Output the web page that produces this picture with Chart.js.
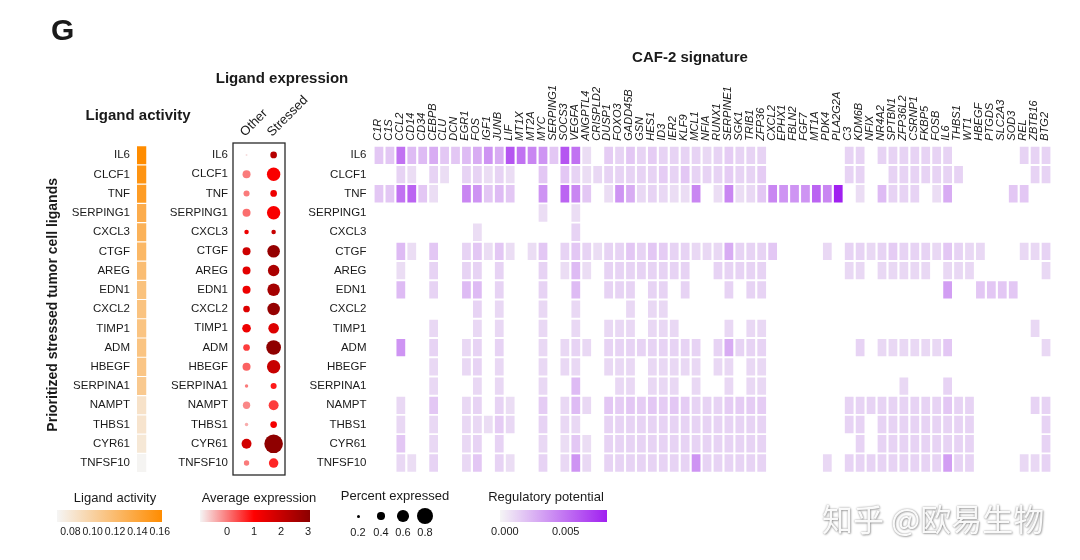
<!DOCTYPE html>
<html><head><meta charset="utf-8">
<script src="https://cdn.jsdelivr.net/npm/chart.js@4.4.1/dist/chart.umd.min.js"></script>
<style>
html,body{margin:0;padding:0;background:#fff;}
#wrap{position:relative;width:1080px;height:560px;overflow:hidden;font-family:"Liberation Sans",Arial,Helvetica,sans-serif;color:#1a1a1a;background:#fff;}
canvas{position:absolute;left:0;top:0;}
.t{position:absolute;white-space:nowrap;line-height:1;}
.b{font-weight:bold;}
.bar{position:absolute;}
.dotl{position:absolute;border-radius:50%;background:#000;}
</style></head><body>
<div id="wrap">
<canvas id="act" width="1080" height="560"></canvas>
<canvas id="dot" width="1080" height="560"></canvas>
<canvas id="heat" width="1080" height="560"></canvas>
</div>
<script>
const _ = null;
// ---------------- DATA ----------------
const ligands = ['IL6','CLCF1','TNF','SERPING1','CXCL3','CTGF','AREG','EDN1','CXCL2','TIMP1','ADM','HBEGF','SERPINA1','NAMPT','THBS1','CYR61','TNFSF10'];
const cafTargets = ['C1R','C1S','CCL2','CD14','CD34','CEBPB','CLU','DCN','EGR1','FOS','IGF1','JUNB','LIF','MT1X','MT2A','MYC','SERPING1','SOCS3','VEGFA','ANGPTL4','CRISPLD2','DUSP1','FOXO3','GADD45B','GSN','HES1','ID3','IER2','KLF9','MCL1','NFIA','RUNX1','SERPINE1','SGK1','TRIB1','ZFP36','CXCL2','EPHX1','FBLN2','FGF7','MT1A','PDK4','PLA2G2A','C3','KDM6B','NFIX','NR4A2','SPTBN1','ZFP36L2','CSRNP1','FKBP5','FOSB','IL6','THBS1','WT1','HBEGF','PTGDS','SLC2A3','SOD3','REL','ZBTB16','BTG2'];
const exprGroups = ['Other','Stressed'];

const ligandActivity = [0.162,0.155,0.148,0.133,0.128,0.123,0.118,0.114,0.113,0.112,0.112,0.111,0.107,0.085,0.083,0.080,0.069];

// average expression (scaled) and fraction expressing, per ligand
const exprOther    = [-0.8,0.0,0.0,0.1,1.3,1.9,1.5,1.3,1.6,1.3,0.5,0.2,0.0,-0.1,-0.4,1.8,0.0];
const exprStressed = [2.3,1.1,1.3,1.1,2.0,2.9,2.5,2.6,2.9,1.6,3.0,2.0,0.8,0.5,1.2,3.0,0.7];
const pctOther     = [0.15,0.43,0.34,0.43,0.27,0.43,0.43,0.43,0.37,0.46,0.37,0.43,0.22,0.40,0.22,0.52,0.31];
const pctStressed  = [0.37,0.68,0.37,0.68,0.27,0.64,0.59,0.64,0.64,0.55,0.74,0.68,0.34,0.52,0.37,0.92,0.50];

// regulatory potential (x 1e-3), one array per ligand, 62 CAF-2 targets each
const regIL6 = [1.5,1.5,5,2,2,2.6,1.5,1.5,2,2.6, 3.6,2.6,6.2,5,4.2,3.6,1.5,6.2,5,.6, _,1.3,1,1.5,1,1.3,1,1,1,1, .8,1,1.3,1,1,1,_,_,_,_, _,_,_,1,1,_,1,1,1,1, 1,1,1,_,_,_,_,_,_,1, 1,1];
const regCLCF1 = [_,_,1,.6,_,1,.6,_,1,1, .6,1,.6,_,_,1.5,_,1.5,1,.6, .8,1,1,1,1,1,1.3,1,1.5,1, 1,1,1.3,1,1,1.3,_,_,_,_, _,_,_,1,1,_,_,1,1,1, 1,1,1,1,_,_,_,_,_,_, 1,1];
const regTNF = [1.5,1.5,5,5.6,1.5,.6,_,_,4.2,3.6, 1.5,2,1.5,_,_,3.6,_,5.6,4.2,1.5, _,.6,3.6,2.6,.8,1,.8,.6,.6,4.2, _,.6,4.2,.6,.8,1.5,4.2,3.6,3.6,3.6, 5.6,4.2,8.4,_,.6,_,2,1,1,1, _,.6,2.6,_,_,_,_,_,1.5,1.5, _,_];
const regSERPING1 = [_,_,_,_,_,_,_,_,_,_, _,_,_,_,_,.6,_,_,.6,_, _,_,_,_,_,_,_,_,_,_, _,_,_,_,_,_,_,_,_,_, _,_,_,_,_,_,_,_,_,_, _,_,_,_,_,_,_,_,_,_, _,_];
const regCXCL3 = [_,_,_,_,_,_,_,_,_,.6, _,_,_,_,_,_,_,_,1,_, _,_,_,_,_,_,_,_,_,_, _,_,_,_,_,_,_,_,_,_, _,_,_,_,_,_,_,_,_,_, _,_,_,_,_,_,_,_,_,_, _,_];
const regCTGF = [_,_,2,.6,_,1.5,_,_,1,1.5, .6,1.5,.6,_,.6,1.5,_,1,1.5,1, .6,1,1,1.5,1,1.5,1.3,1,1,.8, .8,.8,2.6,1,1,1,1.5,_,_,_, _,.8,_,1,1,.8,1,1.3,1,1, 1,.8,1.5,1,.8,.8,_,_,_,.8, .8,1];
const regAREG = [_,_,.6,_,_,1,_,_,1,1, _,1,_,_,_,1,_,.6,2,.6, _,1,1,1,1,1,1,1,1,_, _,1,1,1,1,1,_,_,_,_, _,_,_,.8,.8,_,.8,.8,.8,.8, .8,_,.8,.8,.8,_,_,_,_,_, _,.8];
const regEDN1 = [_,_,2,_,_,1,_,_,2,2, _,1,_,_,_,1,_,_,2,_, _,1,1,1,_,1,1,_,1,_, _,_,1,_,1,1,_,_,_,_, _,_,_,_,_,_,_,_,_,_, _,_,3.2,_,_,1.5,1.5,1.5,1.5,_, _,_];
const regCXCL2 = [_,_,_,_,_,_,_,_,_,1, _,.8,_,_,_,.8,_,_,.8,_, _,_,_,.8,_,.8,.8,_,_,_, _,_,_,_,_,_,_,_,_,_, _,_,_,_,_,_,_,_,_,_, _,_,_,_,_,_,_,_,_,_, _,_];
const regTIMP1 = [_,_,_,_,_,.8,_,_,_,.8, _,.8,_,_,_,.8,_,_,.8,_, _,.8,.8,.8,_,.8,.8,.8,_,_, _,_,.8,_,.8,.8,_,_,_,_, _,_,_,_,_,_,_,_,_,_, _,_,_,_,_,_,_,_,_,_, .8,_];
const regADM = [_,_,3.6,_,_,1,_,_,.8,1, _,1,_,_,_,.8,_,.8,1,.8, _,1,1,1,1,1,1,1,1,1, _,1,2.6,1,1,1,_,_,_,_, _,_,_,_,1,_,.8,.8,.8,.8, .8,.8,1.5,_,_,_,_,_,_,_, _,.8];
const regHBEGF = [_,_,_,_,_,.8,_,_,.8,1, _,.8,_,_,_,.8,_,.8,.8,_, _,.8,.8,.8,_,.8,.8,.8,.8,.8, _,.8,.8,_,.8,.8,_,_,_,_, _,_,_,_,_,_,_,_,_,_, _,_,_,_,_,_,_,_,_,_, _,_];
const regSERPINA1 = [_,_,_,_,_,.8,_,_,_,.8, _,.8,_,_,_,.8,_,_,2,_, _,_,.8,.8,_,.8,.8,.8,_,.8, _,_,.8,_,.8,.8,_,_,_,_, _,_,_,_,_,_,_,_,.8,_, _,_,1,_,_,_,_,_,_,_, _,_];
const regNAMPT = [_,_,.8,_,_,1.5,_,_,.8,1, _,1,.6,_,_,1.3,_,.8,2,.8, _,1.5,1.3,1.5,1.3,1.5,1.3,1.5,1.3,1, 1,1,1.3,1.3,1.3,1.3,_,_,_,_, _,_,_,1,1,1,1,1,1,1, 1,1,1.5,1,1,_,_,_,_,_, 1,1];
const regTHBS1 = [_,_,.8,_,_,.8,_,_,.8,.8, .6,1.3,.8,_,_,1,_,.8,.8,_, _,1,1,1,1,1,1,1,1,1, 1,1,1,1,1,1,_,_,_,_, _,_,_,1,1,_,1,1,1,1, 1,1,1,1,1,_,_,_,_,_, _,1];
const regCYR61 = [_,_,1.5,_,_,.8,_,_,.8,1, _,1,_,_,_,.8,_,.6,1.5,.6, _,1,1,1,1,1,1,1,1,1, 1,1,1,1,1,1,_,_,_,_, _,_,_,_,1,_,1,1,1,1, 1,1,1,1,1,_,_,_,_,_, _,1];
const regTNFSF10 = [_,_,.8,.6,_,1,_,_,.8,1.5, _,1,.6,_,_,1,_,.8,3.6,.8, _,1,1,1,1,1,1,1,1,3.6, 1,1,1,1,1,1,_,_,_,_, _,.8,_,1,1,1,1,1,1,1, 1,1,3.2,1,1,_,_,_,_,.8, .8,1];
const regPotential = [regIL6,regCLCF1,regTNF,regSERPING1,regCXCL3,regCTGF,regAREG,regEDN1,regCXCL2,regTIMP1,regADM,regHBEGF,regSERPINA1,regNAMPT,regTHBS1,regCYR61,regTNFSF10];

// legend breaks
const actBreaks = [0.08,0.10,0.12,0.14,0.16];
const exprBreaks = [0,1,2,3];
const pctBreaks = [0.2,0.4,0.6,0.8];
const regBreaks = [0,5]; // x 1e-3

// ---------------- SCALES / STYLE ----------------
const FONT = '"Liberation Sans", Arial, Helvetica, sans-serif';
const TXT = '#1a1a1a';
const WS=[245,245,245], PURPLE=[160,32,240], ORANGE=[255,140,0], RED=[255,0,0], DARKRED=[139,0,0];
const ACT_MIN=0.068, ACT_MAX=0.162;
const EXP_MIN=-1, EXP_MID=1, EXP_MAX=3.07;
const REG_MIN=-0.4, REG_MAX=8.4;
function mix(a,b,t){t=Math.max(0,Math.min(1,t));return 'rgb('+[0,1,2].map(i=>Math.round(a[i]+(b[i]-a[i])*t)).join(',')+')';}
const actColor = v => mix(WS,ORANGE,(v-ACT_MIN)/(ACT_MAX-ACT_MIN));
const regColor = v => mix(WS,PURPLE,(v-REG_MIN)/(REG_MAX-REG_MIN));
const exprColor = v => v<=EXP_MID ? mix(WS,RED,(v-EXP_MIN)/(EXP_MID-EXP_MIN)) : mix(RED,DARKRED,(v-EXP_MID)/(EXP_MAX-EXP_MID));
const sizeOf = p => 1.5 + (p-0.2)*10.83;

// plot areas
const HEAT = {left:373.5,right:1051.5,top:145.7,bottom:472.6};
const ACT  = {left:137,right:146.5,top:145.7,bottom:472.6};
const DOT  = {left:233,right:285,top:143,bottom:475};
const W=1080,H=560;
const tickFont = {family:FONT,size:11.5};
const noGrid = {display:false,drawTicks:false};

Chart.defaults.font.family = FONT;
Chart.defaults.color = TXT;

// ---- Ligand activity column ----
new Chart(document.getElementById('act'),{
  type:'bar',
  data:{labels:ligands,datasets:[{data:ligands.map(()=>[0,1]),backgroundColor:ligandActivity.map(actColor),borderWidth:0,barPercentage:0.94,categoryPercentage:1}]},
  options:{
    indexAxis:'y',responsive:false,animation:false,events:[],
    layout:{padding:{left:ACT.left-100,right:W-ACT.right,top:ACT.top,bottom:H-ACT.bottom}},
    plugins:{legend:{display:false},tooltip:{enabled:false}},
    scales:{
      x:{display:false,min:0,max:1},
      y:{type:'category',grid:noGrid,border:{display:false},
         ticks:{padding:7,font:tickFont,color:TXT,autoSkip:false},
         afterFit(s){s.width=100;}}
    }
  }
});

// ---- Ligand expression dot plot ----
const boxPlugin={id:'box',afterDatasetsDraw(chart){const {ctx,chartArea:a}=chart;ctx.save();ctx.strokeStyle='#2a2a2a';ctx.lineWidth=1.3;ctx.strokeRect(a.left,a.top,a.right-a.left,a.bottom-a.top);ctx.restore();}};
new Chart(document.getElementById('dot'),{
  type:'bubble',
  data:{datasets:[
    {data:ligands.map((l,i)=>({x:0,y:i,r:sizeOf(pctOther[i])})),backgroundColor:exprOther.map(exprColor),borderWidth:0},
    {data:ligands.map((l,i)=>({x:1,y:i,r:sizeOf(pctStressed[i])})),backgroundColor:exprStressed.map(exprColor),borderWidth:0}
  ]},
  options:{
    responsive:false,animation:false,events:[],clip:false,
    layout:{padding:{left:DOT.left-80,right:W-DOT.right,top:DOT.top-80,bottom:H-DOT.bottom}},
    plugins:{legend:{display:false},tooltip:{enabled:false}},
    scales:{
      x:{type:'linear',position:'top',min:-0.5,max:1.42,grid:noGrid,border:{display:false},
         afterBuildTicks(s){s.ticks=exprGroups.map((g,i)=>({value:i}));},
         ticks:{callback:v=>exprGroups[v],minRotation:45,maxRotation:45,padding:3,labelOffset:7,font:{family:FONT,size:13},color:TXT},
         afterFit(s){s.height=80;}},
      y:{type:'linear',reverse:true,min:-0.62,max:16.62,grid:noGrid,border:{display:false},
         afterBuildTicks(s){s.ticks=ligands.map((l,i)=>({value:i}));},
         ticks:{callback:v=>ligands[v],padding:5,font:tickFont,color:TXT},
         afterFit(s){s.width=80;}}
    }
  },
  plugins:[boxPlugin]
});

// ---- CAF-2 signature regulatory potential heatmap ----
new Chart(document.getElementById('heat'),{
  type:'bar',
  data:{labels:cafTargets,datasets:ligands.map((lig,r)=>({
    label:lig,
    data:regPotential[r].map(v=>v==null?null:[r-0.45,r+0.45]),
    backgroundColor:regPotential[r].map(v=>v==null?'rgba(0,0,0,0)':regColor(v)),
    borderWidth:0,grouped:false,barPercentage:0.8,categoryPercentage:1
  }))},
  options:{
    responsive:false,animation:false,events:[],
    layout:{padding:{left:HEAT.left-80,right:W-HEAT.right,top:HEAT.top-130,bottom:H-HEAT.bottom}},
    plugins:{legend:{display:false},tooltip:{enabled:false}},
    scales:{
      x:{type:'category',position:'top',offset:true,grid:noGrid,border:{display:false},
         ticks:{autoSkip:false,minRotation:90,maxRotation:90,padding:5,labelOffset:12,font:{family:FONT,size:11,style:'italic'},color:TXT},
         afterFit(s){s.height=130;}},
      y:{type:'linear',reverse:true,min:-0.5,max:16.5,grid:noGrid,border:{display:false},
         afterBuildTicks(s){s.ticks=ligands.map((l,i)=>({value:i}));},
         ticks:{callback:v=>ligands[v],padding:7,font:tickFont,color:TXT},
         afterFit(s){s.width=80;}}
    }
  }
});

// ---------------- TEXT & LEGENDS ----------------
const wrap=document.getElementById('wrap');
function txt(s,x,y,size,opts={}){
  const d=document.createElement('div');d.className='t'+(opts.bold?' b':'');d.textContent=s;
  d.style.fontSize=size+'px';d.style.left=x+'px';d.style.top=(y-0.488*size)+'px';
  let tf=opts.align==='center'?'translateX(-50%)':(opts.align==='right'?'translateX(-100%)':'');
  if(opts.rotate){tf='translate(-50%,0) rotate('+opts.rotate+'deg)';d.style.transformOrigin='50% 48.8%';}
  d.style.transform=tf; if(opts.color)d.style.color=opts.color; if(opts.family)d.style.fontFamily=opts.family;
  wrap.appendChild(d);return d;
}
txt('G',51,30,30,{bold:true});
txt('CAF-2 signature',690,56,15,{bold:true,align:'center'});
txt('Ligand expression',282,77,15,{bold:true,align:'center'});
txt('Ligand activity',138,114,15,{bold:true,align:'center'});
txt('Prioritized stressed tumor cell ligands',52,305,14,{bold:true,rotate:-90});

function gradBar(left,width,css){const d=document.createElement('div');d.className='bar';Object.assign(d.style,{left:left+'px',top:'510px',width:width+'px',height:'12px',background:css});wrap.appendChild(d);}
const LF=10.5;
// Ligand activity legend
const AB={left:57,width:105};
txt('Ligand activity',115,497,13,{align:'center'});
gradBar(AB.left,AB.width,'linear-gradient(to right,'+actColor(ACT_MIN)+','+actColor(ACT_MAX)+')');
actBreaks.forEach(b=>txt(b.toFixed(2),AB.left+(b-ACT_MIN)/(ACT_MAX-ACT_MIN)*AB.width,531,LF,{align:'center'}));
// Average expression legend
const EB={left:200,width:110};
txt('Average expression',259,497,13,{align:'center'});
const midPct=((EXP_MID-EXP_MIN)/(EXP_MAX-EXP_MIN)*100).toFixed(1);
gradBar(EB.left,EB.width,'linear-gradient(to right,'+exprColor(EXP_MIN)+' 0%,'+exprColor(EXP_MID)+' '+midPct+'%,'+exprColor(EXP_MAX)+' 100%)');
exprBreaks.forEach(b=>txt(String(b),EB.left+(b-EXP_MIN)/(EXP_MAX-EXP_MIN)*EB.width,531,11,{align:'center'}));
// Percent expressed legend
txt('Percent expressed',395,495,13,{align:'center'});
const pctX=[358,381,403,425];
pctBreaks.forEach((p,i)=>{const r=sizeOf(p);const d=document.createElement('div');d.className='dotl';Object.assign(d.style,{left:(pctX[i]-r)+'px',top:(516-r)+'px',width:2*r+'px',height:2*r+'px'});wrap.appendChild(d);txt(String(p),pctX[i],532,11,{align:'center'});});
// Regulatory potential legend
const RB={left:500,width:107};
txt('Regulatory potential',546,496,13,{align:'center'});
gradBar(RB.left,RB.width,'linear-gradient(to right,'+regColor(REG_MIN)+','+regColor(REG_MAX)+')');
regBreaks.forEach(b=>txt((b/1000).toFixed(3),RB.left+(b-REG_MIN)/(REG_MAX-REG_MIN)*RB.width,531,11,{align:'center'}));
// watermark
const wm=txt('知乎 @欧易生物',822,517,31,{family:'"Noto Sans CJK SC","Noto Sans",sans-serif',color:'rgba(255,255,255,0.95)'});
wm.style.textShadow='0 0 2px rgba(0,0,0,0.45), 1px 1px 2px rgba(0,0,0,0.25)';
</script>
</body></html>
